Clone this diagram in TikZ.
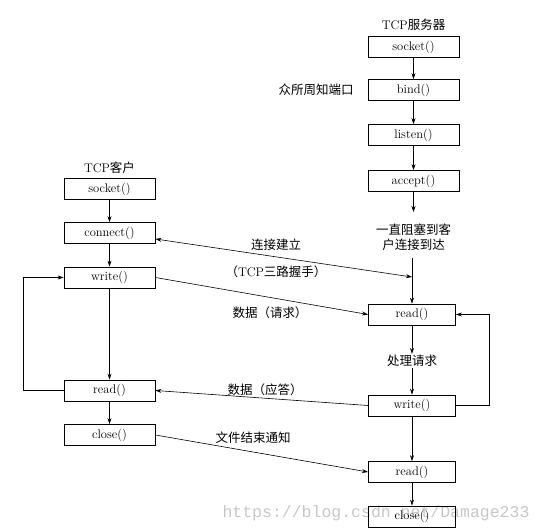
\documentclass[tikz,border=0pt]{standalone}
\usepackage{fontspec}
\newfontfamily\cjk{Noto Sans CJK SC}
\newfontfamily\wmfont{Liberation Mono}
\usetikzlibrary{positioning}
\usetikzlibrary{arrows.meta}

\begin{document}
\begin{tikzpicture}[x=1pt,y=-1pt,line width=0.6pt,
                    >={Stealth[length=6pt,width=4pt]},
                    main node/.style={rectangle,draw,line width=0.9pt,minimum width=91pt,minimum height=21pt,inner sep=0pt,font=\fontsize{12.5}{14}\selectfont},
                    label node/.style={inner sep=1pt,font=\fontsize{12.5}{15}\selectfont\cjk}]

  \useasboundingbox (0,0) rectangle (542,532);

  \node[text=black!22,font=\wmfont\fontsize{16.5}{18}\selectfont] (wm) at (376,513) {https://blog.csdn.net/Damage233};

  % client side
  \node[label node] (cli) at (109.5,168) {{\rmfamily TCP}客户};
  \node[main node] (csock) at (109.5,189) {socket()};
  \node[main node] (cconn) at (109.5,233) {connect()};
  \node[main node] (cwrite) at (109.5,277.5) {write()};
  \node[main node] (cread) at (109.5,390.5) {read()};
  \node[main node] (cclose) at (109.5,435) {close()};

  % server side
  \node[label node] (srv) at (413.5,25) {{\rmfamily TCP}服务器};
  \node[main node] (ssock) at (413.5,47) {socket()};
  \node[main node] (sbind) at (413.5,90) {bind()};
  \node[label node] (port) at (316,90) {众所周知端口};
  \node[main node] (slisten) at (413.5,135) {listen()};
  \node[main node] (saccept) at (413.5,181) {accept()};
  \node[label node,align=center] (sblock) at (413.5,237.5) {一直阻塞到客\\户连接到达};
  \coordinate (waitin) at (413.5,212);
  \coordinate (waitout) at (412,258);
  \coordinate (shake) at (412,277);
  \node[main node,minimum width=87pt] (sread) at (412,314.5) {read()};
  \node[label node] (sproc) at (412,361) {处理请求};
  \node[main node,minimum width=87pt] (swrite) at (412,405.5) {write()};
  \node[main node,minimum width=87pt] (sread2) at (412,472) {read()};
  \node[main node,minimum width=87pt] (sclose) at (412,516.5) {close()};

  % labels on the messages
  \node[label node] (conlbl) at (276,245) {连接建立};
  \node[label node] (hslbl) at (276,272) {（{\rmfamily TCP}三路握手）};
  \node[label node] (reqlbl) at (270,313) {数据（请求）};
  \node[label node] (replbl) at (265,390) {数据（应答）};
  \node[label node] (eoflbl) at (253,438) {文件结束通知};

  \path[->]
    (csock) edge (cconn)
    (cconn) edge (cwrite)
    (cwrite) edge (cread)
    (cread) edge (cclose)
    (ssock) edge (sbind)
    (sbind) edge (slisten)
    (slisten) edge (saccept)
    (saccept) edge (waitin)
    (waitout) edge (sread)
    (sread) edge (sproc)
    (sproc) edge (swrite)
    (swrite) edge (sread2)
    (sread2) edge (sclose)
    (cwrite.east) edge (sread.west)
    (swrite.west) edge (cread.east)
    (cclose.east) edge (sread2.west)
    ;

  \draw[<->] ([yshift=-6pt]cconn.east) -- (shake);
  \draw[->] (cread.west) -- ++(-40,0) |- (cwrite.west);
  \draw[->] (swrite.east) -- ++(33,0) |- (sread.east);
\end{tikzpicture}
\end{document}
